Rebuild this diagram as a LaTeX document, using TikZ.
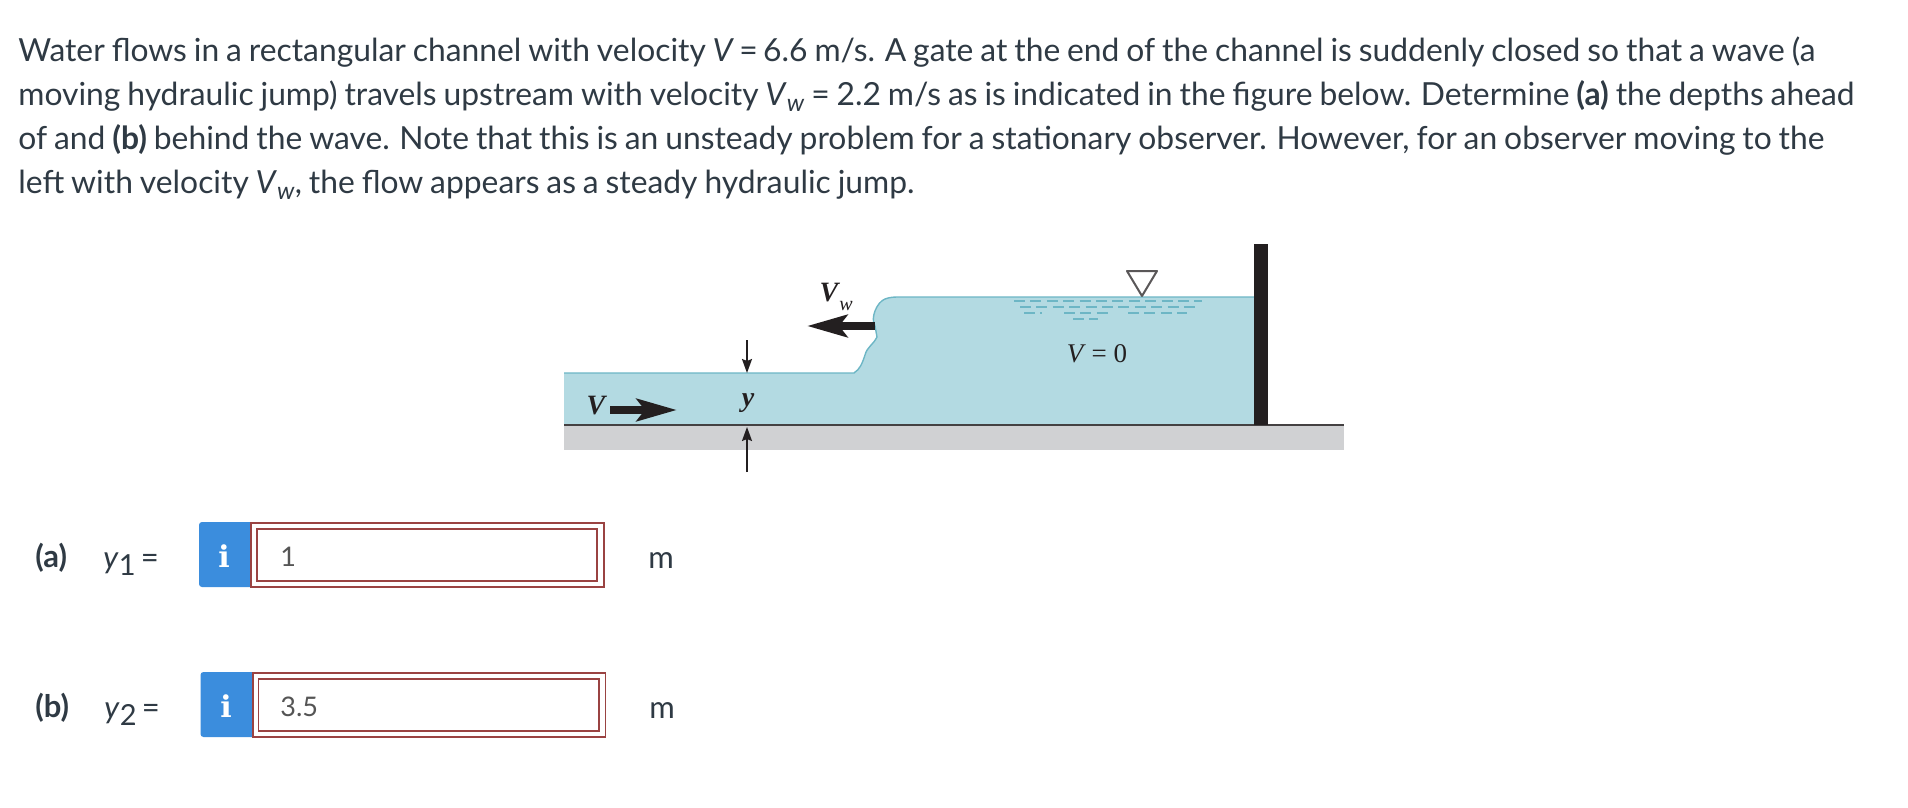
\documentclass[tikz,border=0pt]{standalone}
\usepackage{fontspec}
\setmainfont[WordSpace=0.85]{Lato}
\newfontfamily\figserif{Liberation Serif}
\newfontfamily\iconfont{DejaVu Serif}
\usetikzlibrary{arrows.meta}
\definecolor{txt}{HTML}{2F3A44}
\definecolor{water}{HTML}{B3DAE2}
\definecolor{edgew}{HTML}{6DB6C5}
\definecolor{ground}{HTML}{D0D1D3}
\definecolor{dark}{HTML}{231F20}
\definecolor{redb}{HTML}{9A4342}
\definecolor{blueb}{HTML}{3B8DDD}
\definecolor{ansgray}{HTML}{555555}
\newcommand{\sbs}[1]{\raisebox{-0.35ex}{\fontsize{12}{12}\selectfont\textit{#1}}}
\tikzset{
  x=0.5pt,y=-0.5pt,
  para/.style={anchor=base west,inner sep=0,text=txt,font=\fontsize{15.9}{18}\selectfont},
  formlabel/.style={anchor=base west,inner sep=0,text=txt,font=\fontsize{15.5}{18}\selectfont},
  answer/.style={anchor=base west,inner sep=0,text=ansgray,font=\fontsize{13.5}{16}\selectfont},
  figlabel/.style={inner sep=0,text=dark,font=\figserif\itshape\bfseries\fontsize{14}{15}\selectfont},
  fat/.style={line width=4pt,dark,-{Stealth[length=20pt,width=11pt,inset=4pt]}},
  thinarrow/.style={line width=0.9pt,dark,-{Stealth[length=7pt,width=5pt,inset=1pt]}},
  ripple/.style={line width=0.9pt,edgew,dash pattern=on 5.5pt off 2.7pt},
  bluebtn/.style={fill=blueb,rounded corners=1.5pt},
  redbox/.style={draw=redb,line width=0.9pt,fill=white},
  icon/.style={inner sep=0,text=white,font=\iconfont\bfseries\fontsize{15}{16}\selectfont},
}
\begin{document}
\begin{tikzpicture}
\useasboundingbox (0,0) rectangle (1908,808);
\fill[white] (0,0) rectangle (1908,808);

% problem text
\node[para] (l1) at (18,62) {Water flows in a rectangular channel with velocity \textit{V}\,=\,6.6 m/s. A gate at the end of the channel is suddenly closed so that a wave (a};
\node[para] (l2) at (18,106) {moving hydraulic jump) travels upstream with velocity \textit{V}\sbs{w} = 2.2 m/s as is indicated in the figure below. Determine \textbf{(a)} the depths ahead};
\node[para] (l3) at (18,150) {of and \textbf{(b)} behind the wave. Note that this is an unsteady problem for a stationary observer. However, for an observer moving to the};
\node[para] (l4) at (18,194) {left with velocity \textit{V}\sbs{w}, the flow appears as a steady hydraulic jump.};

% ground and water
\fill[ground] (564,425) rectangle (1344,450);
\fill[water] (564,373) -- (854,373) .. controls (860,369) and (862,364) .. (865,355)
  .. controls (867,347) and (873,345) .. (877,337) -- (875,326)
  .. controls (870,318) and (877,302) .. (885,299) .. controls (890,297) and (895,297) .. (900,297)
  -- (1254,297) -- (1254,425) -- (564,425) -- cycle;
\draw[edgew,line width=0.7pt] (564,373) -- (854,373) .. controls (860,369) and (862,364) .. (865,355)
  .. controls (867,347) and (873,345) .. (877,337) -- (875,326)
  .. controls (870,318) and (877,302) .. (885,299) .. controls (890,297) and (895,297) .. (900,297)
  -- (1254,297);
\draw[ripple] (1014,301) -- (1202,301);
\draw[ripple] (1020,307) -- (1198,307);
\draw[ripple] (1024,313) -- (1042,313);
\draw[ripple] (1064,313) -- (1110,313);
\draw[ripple] (1128,313) -- (1187,313);
\draw[ripple] (1073,319) -- (1098,319);
\draw[dark!85,line width=1pt] (564,425) -- (1344,425);
\fill[dark] (1254,244) rectangle (1268,425);
\draw[dark!75,line width=1pt,line join=round] (1127,271) -- (1157,271) -- (1142,296) -- cycle;

% labels and arrows of the figure
\node[figlabel] (vlab) at (596,406) {V};
\node[figlabel] (ylab) at (748,403) {y};
\node[figlabel] (vwlab) at (829,293) {V};
\node[figlabel,font=\figserif\itshape\fontsize{10}{10}\selectfont] (wlab) at (846,306) {w};
\node[figlabel,font=\figserif\fontsize{13.5}{14}\selectfont] (v0) at (1097,354) {\textit{V}\hspace{-0.6pt} = 0};
\coordinate (vs) at (610,410);
\coordinate (ve) at (677,410);
\coordinate (ws) at (875,326);
\coordinate (we) at (807,326);
\draw[fat] (vs) -- (ve);
\draw[fat] (ws) -- (we);
\coordinate (d1s) at (747,340);
\coordinate (d1e) at (747,373);
\coordinate (d2s) at (747,472);
\coordinate (d2e) at (747,427);
\draw[thinarrow] (d1s) -- (d1e);
\draw[thinarrow] (d2s) -- (d2e);

% answer a
\node[formlabel,font=\bfseries\fontsize{15.5}{18}\selectfont] (alab) at (35,567) {(a)};
\node[formlabel] (ay) at (103,568) {\textit{y}\raisebox{-0.45ex}{\fontsize{14.5}{15}\selectfont 1}\,=};
\fill[bluebtn] (199,522) rectangle (253,587);
\node[icon] (ai) at (224,556) {i};
\draw[redbox] (251,523) rectangle (604,587);
\draw[redbox] (257,529) rectangle (597,581);
\node[answer] (aval) at (280,566) {1};
\node[formlabel] (am) at (648,568) {m};

% answer b
\node[formlabel,font=\bfseries\fontsize{15.5}{18}\selectfont] (blab) at (35,717) {(b)};
\node[formlabel] (by) at (104,718) {\textit{y}\raisebox{-0.45ex}{\fontsize{14.5}{15}\selectfont 2}\,=};
\fill[bluebtn] (200.5,672) rectangle (255,737);
\node[icon] (bi) at (226,706) {i};
\draw[redbox] (253,673) rectangle (605.5,737);
\draw[redbox] (258.5,679) rectangle (599,731);
\node[answer] (bval) at (280,716) {3.5};
\node[formlabel] (bm) at (649,718) {m};
\end{tikzpicture}
\end{document}
